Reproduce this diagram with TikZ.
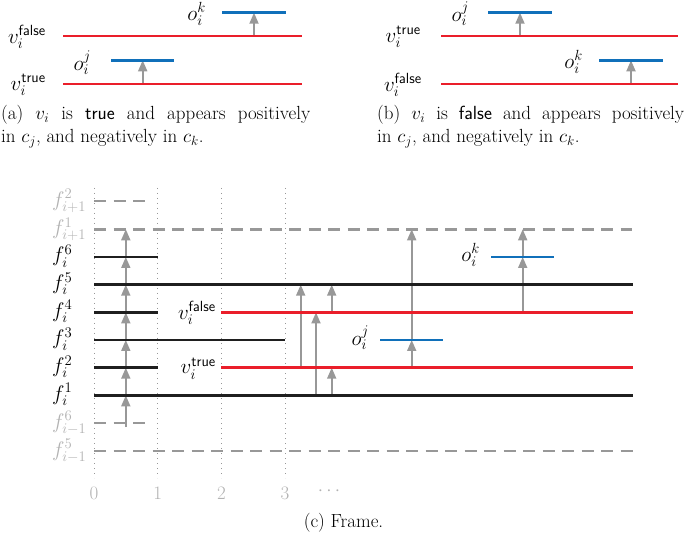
\documentclass[tikz,border=0pt]{standalone}
\usepackage{fix-cm}
\usetikzlibrary{arrows.meta}
\definecolor{vred}{RGB}{234,30,42}
\definecolor{oblue}{RGB}{16,112,186}
\definecolor{agray}{RGB}{152,152,152}
\definecolor{lgray}{RGB}{178,178,178}
\begin{document}
\begin{tikzpicture}[x=1pt,y=-1pt,
  redline/.style={draw=vred,line width=2.8pt},
  blackline/.style={draw=black!88,line width=2.8pt},
  blueline/.style={draw=oblue,line width=2.8pt},
  ghostline/.style={draw=agray,line width=2.6pt,dash pattern=on 12pt off 7.5pt},
  gridline/.style={draw=agray,line width=1pt,dash pattern=on 1pt off 4pt},
  up/.style={draw=agray,line width=1.8pt,-{Triangle[length=11pt,width=9pt]}},
  lab/.style={font=\fontsize{21}{25}\selectfont,inner sep=0pt},
  toplab/.style={lab,anchor=east},
  flab/.style={lab,anchor=west},
  ghostlab/.style={flab,text=lgray},
  ticklab/.style={font=\fontsize{19}{23}\selectfont,inner sep=0pt,text=lgray,anchor=base},
  subcap/.style={font=\fontsize{19}{23.5}\selectfont,anchor=north west,align=justify,inner sep=0pt},
  maincap/.style={font=\fontsize{19}{23}\selectfont,anchor=base,inner sep=0pt}
]
\useasboundingbox (0,0) rectangle (685,534);

% ---------------- (a) ----------------
\coordinate (aF0) at (254,36);   \coordinate (aF1) at (254,12.7);
\coordinate (aT0) at (142.7,84); \coordinate (aT1) at (142.7,60.3);
\draw[up] (aF0) -- (aF1);
\draw[up] (aT0) -- (aT1);
\draw[redline] (63,36) -- (302,36);
\draw[redline] (63,84) -- (302,84);
\draw[blueline] (222,12.7) -- (286,12.7);
\draw[blueline] (111,60.3) -- (174,60.3);
\node[toplab] (aVf) at (46,37) {$v_i^{\mathsf{false}}$};
\node[toplab] (aVt) at (46,85) {$v_i^{\mathsf{true}}$};
\node[toplab] (aOk) at (206,14) {$o_i^k$};
\node[toplab] (aOj) at (91,63) {$o_i^j$};
\node[subcap,text width=309pt] (capa) at (1,104.8) {(a) $v_i$ is \textsf{true} and appears positively\linebreak in $c_j$, and negatively in $c_k$.};

% ---------------- (b) ----------------
\coordinate (bT0) at (520,36);  \coordinate (bT1) at (520,12.7);
\coordinate (bF0) at (631,84);  \coordinate (bF1) at (631,60.3);
\draw[up] (bT0) -- (bT1);
\draw[up] (bF0) -- (bF1);
\draw[redline] (441,36) -- (678,36);
\draw[redline] (441,84) -- (678,84);
\draw[blueline] (488,12.7) -- (552,12.7);
\draw[blueline] (599,60.3) -- (663,60.3);
\node[toplab] (bVt) at (421,37) {$v_i^{\mathsf{true}}$};
\node[toplab] (bVf) at (422,85) {$v_i^{\mathsf{false}}$};
\node[toplab] (bOj) at (469,14) {$o_i^j$};
\node[toplab] (bOk) at (583,62) {$o_i^k$};
\node[subcap,text width=307pt] (capb) at (377,104.8) {(b) $v_i$ is \textsf{false} and appears positively\linebreak in $c_j$, and negatively in $c_k$.};

% ---------------- (c) ----------------
% grid
\foreach \x/\n in {94/0,157.7/1,221.4/2,285/3}{
  \draw[gridline] (\x,188) -- (\x,478);
  \node[ticklab] (t\n) at (\x,499) {\n};
}
\node[ticklab,anchor=center] (dots) at (329,491) {$\cdots$};

% arrow coordinates
\coordinate (c0) at (125.8,427);
\coordinate (c1) at (125.8,395.4);
\coordinate (c2) at (125.8,367.7);
\coordinate (c3) at (125.8,340);
\coordinate (c4) at (125.8,312.4);
\coordinate (c5) at (125.8,284.7);
\coordinate (c6) at (125.8,257);
\coordinate (c7) at (125.8,229.3);
\draw[up] (c0) -- (c1);
\draw[up] (c1) -- (c2);
\draw[up] (c2) -- (c3);
\draw[up] (c3) -- (c4);
\draw[up] (c4) -- (c5);
\draw[up] (c5) -- (c6);
\draw[up] (c6) -- (c7);

\coordinate (p1) at (300.7,367.7); \coordinate (p2) at (300.7,284.7);
\coordinate (q1) at (316,395.4);   \coordinate (q2) at (316,312.4);
\coordinate (r1) at (331.7,395.4); \coordinate (r2) at (331.7,367.7);
\coordinate (r3) at (331.7,312.4); \coordinate (r4) at (331.7,284.7);
\coordinate (s1) at (411.7,367.7); \coordinate (s2) at (411.7,340);
\coordinate (s3) at (411.7,229.3);
\coordinate (u1) at (522.7,312.4); \coordinate (u2) at (522.7,257);
\coordinate (u3) at (522.7,229.3);
\draw[up] (p1) -- (p2);
\draw[up] (q1) -- (q2);
\draw[up] (r1) -- (r2);
\draw[up] (r3) -- (r4);
\draw[up] (s1) -- (s2);
\draw[up] (s2) -- (s3);
\draw[up] (u1) -- (u2);
\draw[up] (u2) -- (u3);

% lines
\draw[ghostline] (94,201) -- (152,201);
\draw[ghostline] (94,229.3) -- (632,229.3);
\draw[blackline] (94,257) -- (157.7,257);
\draw[blackline] (94,284.7) -- (633,284.7);
\draw[blackline] (94,312.4) -- (157.7,312.4);
\draw[redline] (221.4,312.4) -- (633,312.4);
\draw[blackline] (94,340) -- (285,340);
\draw[blackline] (94,367.7) -- (157.7,367.7);
\draw[redline] (221.4,367.7) -- (633,367.7);
\draw[blackline] (94,395.4) -- (633,395.4);
\draw[ghostline] (94,423) -- (152,423);
\draw[ghostline] (94,450.8) -- (633,450.8);
\draw[blueline] (380,340) -- (443,340);
\draw[blueline] (491,257) -- (554,257);

% labels
\node[ghostlab] (lF2) at (52,201) {$f_{i+1}^2$};
\node[ghostlab] (lF1) at (52,229.3) {$f_{i+1}^1$};
\node[flab] (l6) at (52,256) {$f_i^6$};
\node[flab] (l5) at (52,283.7) {$f_i^5$};
\node[flab] (l4) at (52,311.4) {$f_i^4$};
\node[flab] (l3) at (52,339) {$f_i^3$};
\node[flab] (l2) at (52,366.7) {$f_i^2$};
\node[flab] (l1) at (52,394.4) {$f_i^1$};
\node[ghostlab] (lM6) at (52,423) {$f_{i-1}^6$};
\node[ghostlab] (lM5) at (52,450.8) {$f_{i-1}^5$};
\node[toplab] (cVf) at (216,313) {$v_i^{\mathsf{false}}$};
\node[toplab] (cVt) at (216,368.5) {$v_i^{\mathsf{true}}$};
\node[toplab] (cOj) at (369,338) {$o_i^j$};
\node[toplab] (cOk) at (480,255) {$o_i^k$};

\node[maincap] (capc) at (343.5,527) {(c) Frame.};
\end{tikzpicture}
\end{document}
